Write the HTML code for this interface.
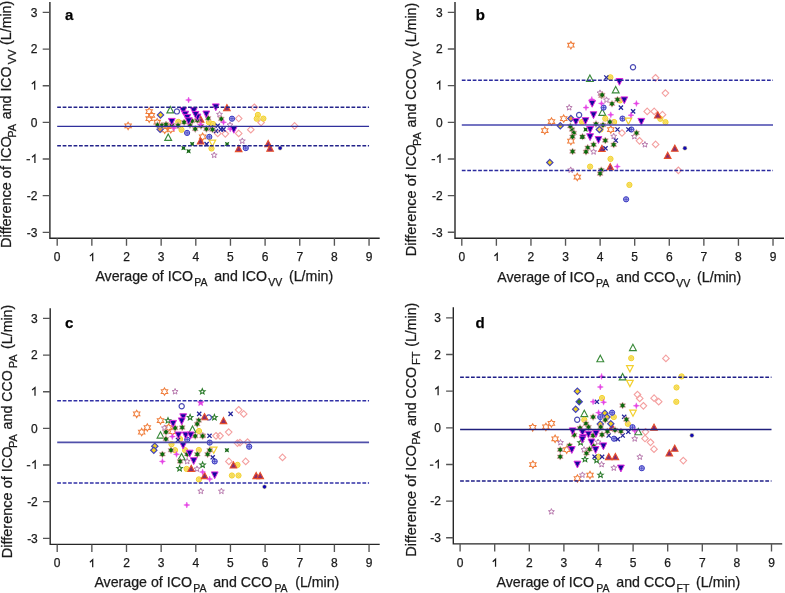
<!DOCTYPE html><html><head><meta charset="utf-8"><style>
html,body{margin:0;padding:0;background:#fff;width:785px;height:593px;overflow:hidden}
svg{display:block;font-family:"Liberation Sans",sans-serif;will-change:transform}
text{stroke:#1a1a1a;stroke-width:0.25px}
</style></head><body>
<svg width="785" height="593" viewBox="0 0 785 593">
<rect width="785" height="593" fill="#fff"/>
<path d="M49.9,2.0V238.3H379.7" fill="none" stroke="#262626" stroke-width="1.4"/>
<path d="M42.699999999999996,232.30H49.9M42.699999999999996,195.65H49.9M42.699999999999996,159.00H49.9M42.699999999999996,122.35H49.9M42.699999999999996,85.70H49.9M42.699999999999996,49.05H49.9M42.699999999999996,12.40H49.9M57.20,238.3V245.8M91.85,238.3V245.8M126.50,238.3V245.8M161.15,238.3V245.8M195.80,238.3V245.8M230.45,238.3V245.8M265.10,238.3V245.8M299.75,238.3V245.8M334.40,238.3V245.8M369.05,238.3V245.8" fill="none" stroke="#555" stroke-width="1.35"/>
<text x="37.50" y="236.60" font-size="12" text-anchor="end" fill="#1a1a1a">-3</text>
<text x="37.50" y="199.95" font-size="12" text-anchor="end" fill="#1a1a1a">-2</text>
<path d="M34.90,163.10V154.80L32.00,157.20" fill="none" stroke="#1a1a1a" stroke-width="1.25"/>
<path d="M26.50,159.70H30.00" fill="none" stroke="#1a1a1a" stroke-width="1.2"/>
<text x="37.50" y="126.65" font-size="12" text-anchor="end" fill="#1a1a1a">0</text>
<path d="M34.70,89.80V81.50L31.80,83.90" fill="none" stroke="#1a1a1a" stroke-width="1.25" stroke-linejoin="miter"/>
<text x="37.50" y="53.35" font-size="12" text-anchor="end" fill="#1a1a1a">2</text>
<text x="37.50" y="16.70" font-size="12" text-anchor="end" fill="#1a1a1a">3</text>
<text x="57.20" y="261.10" font-size="12" text-anchor="middle" fill="#1a1a1a">0</text>
<path d="M92.70,261.20V253.60L89.90,256.10" fill="none" stroke="#1a1a1a" stroke-width="1.25"/>
<text x="126.50" y="261.10" font-size="12" text-anchor="middle" fill="#1a1a1a">2</text>
<text x="161.15" y="261.10" font-size="12" text-anchor="middle" fill="#1a1a1a">3</text>
<text x="195.80" y="261.10" font-size="12" text-anchor="middle" fill="#1a1a1a">4</text>
<text x="230.45" y="261.10" font-size="12" text-anchor="middle" fill="#1a1a1a">5</text>
<text x="265.10" y="261.10" font-size="12" text-anchor="middle" fill="#1a1a1a">6</text>
<text x="299.75" y="261.10" font-size="12" text-anchor="middle" fill="#1a1a1a">7</text>
<text x="334.40" y="261.10" font-size="12" text-anchor="middle" fill="#1a1a1a">8</text>
<text x="369.05" y="261.10" font-size="12" text-anchor="middle" fill="#1a1a1a">9</text>
<text x="65" y="20.0" font-size="15" font-weight="bold" fill="#000">a</text>
<g font-size="14.2" fill="#1a1a1a"><text x="95.40" y="281.2">Average of ICO</text><text x="194.20" y="285.9" font-size="10.5">PA</text><text x="214.20" y="281.2">and ICO</text><text x="268.20" y="285.9" font-size="10.5">VV</text><text x="289.00" y="281.2">(L/min)</text></g>
<g font-size="14.2" fill="#1a1a1a" transform="translate(11.2,248.0) rotate(-90)"><text x="0" y="0" font-size="14.5">Difference of ICO</text><text x="110.20" y="4.7" font-size="11">PA</text><text x="128.80" y="0">and ICO</text><text x="183.80" y="4.7" font-size="11">VV</text><text x="203.10" y="0">(L/min)</text></g>
<path d="M455.0,2.0V238.2H784.0" fill="none" stroke="#262626" stroke-width="1.4"/>
<path d="M447.8,232.25H455.0M447.8,195.60H455.0M447.8,158.95H455.0M447.8,122.30H455.0M447.8,85.65H455.0M447.8,49.00H455.0M447.8,12.35H455.0M461.80,238.2V245.7M496.38,238.2V245.7M530.96,238.2V245.7M565.54,238.2V245.7M600.12,238.2V245.7M634.70,238.2V245.7M669.28,238.2V245.7M703.86,238.2V245.7M738.44,238.2V245.7M773.02,238.2V245.7" fill="none" stroke="#555" stroke-width="1.35"/>
<text x="442.60" y="236.55" font-size="12" text-anchor="end" fill="#1a1a1a">-3</text>
<text x="442.60" y="199.90" font-size="12" text-anchor="end" fill="#1a1a1a">-2</text>
<path d="M440.00,163.05V154.75L437.10,157.15" fill="none" stroke="#1a1a1a" stroke-width="1.25"/>
<path d="M431.60,159.65H435.10" fill="none" stroke="#1a1a1a" stroke-width="1.2"/>
<text x="442.60" y="126.60" font-size="12" text-anchor="end" fill="#1a1a1a">0</text>
<path d="M439.80,89.75V81.45L436.90,83.85" fill="none" stroke="#1a1a1a" stroke-width="1.25" stroke-linejoin="miter"/>
<text x="442.60" y="53.30" font-size="12" text-anchor="end" fill="#1a1a1a">2</text>
<text x="442.60" y="16.65" font-size="12" text-anchor="end" fill="#1a1a1a">3</text>
<text x="461.80" y="261.00" font-size="12" text-anchor="middle" fill="#1a1a1a">0</text>
<path d="M497.23,261.10V253.50L494.43,256.00" fill="none" stroke="#1a1a1a" stroke-width="1.25"/>
<text x="530.96" y="261.00" font-size="12" text-anchor="middle" fill="#1a1a1a">2</text>
<text x="565.54" y="261.00" font-size="12" text-anchor="middle" fill="#1a1a1a">3</text>
<text x="600.12" y="261.00" font-size="12" text-anchor="middle" fill="#1a1a1a">4</text>
<text x="634.70" y="261.00" font-size="12" text-anchor="middle" fill="#1a1a1a">5</text>
<text x="669.28" y="261.00" font-size="12" text-anchor="middle" fill="#1a1a1a">6</text>
<text x="703.86" y="261.00" font-size="12" text-anchor="middle" fill="#1a1a1a">7</text>
<text x="738.44" y="261.00" font-size="12" text-anchor="middle" fill="#1a1a1a">8</text>
<text x="773.02" y="261.00" font-size="12" text-anchor="middle" fill="#1a1a1a">9</text>
<text x="475.7" y="20.0" font-size="15" font-weight="bold" fill="#000">b</text>
<g font-size="14.2" fill="#1a1a1a"><text x="497.30" y="281.8">Average of ICO</text><text x="596.10" y="286.5" font-size="10.5">PA</text><text x="616.10" y="281.8">and CCO</text><text x="676.30" y="286.5" font-size="10.5">VV</text><text x="697.10" y="281.8">(L/min)</text></g>
<g font-size="14.2" fill="#1a1a1a" transform="translate(416.3,256.2) rotate(-90)"><text x="0" y="0" font-size="14.5">Difference of ICO</text><text x="110.20" y="4.7" font-size="11">PA</text><text x="128.80" y="0">and CCO</text><text x="190.00" y="4.7" font-size="11">VV</text><text x="209.30" y="0">(L/min)</text></g>
<path d="M50.2,308.3V544.4H379.7" fill="none" stroke="#262626" stroke-width="1.4"/>
<path d="M43.0,538.30H50.2M43.0,501.65H50.2M43.0,465.00H50.2M43.0,428.35H50.2M43.0,391.70H50.2M43.0,355.05H50.2M43.0,318.40H50.2M57.20,544.4V551.9M91.85,544.4V551.9M126.50,544.4V551.9M161.15,544.4V551.9M195.80,544.4V551.9M230.45,544.4V551.9M265.10,544.4V551.9M299.75,544.4V551.9M334.40,544.4V551.9M369.05,544.4V551.9" fill="none" stroke="#555" stroke-width="1.35"/>
<text x="37.80" y="542.60" font-size="12" text-anchor="end" fill="#1a1a1a">-3</text>
<text x="37.80" y="505.95" font-size="12" text-anchor="end" fill="#1a1a1a">-2</text>
<path d="M35.20,469.10V460.80L32.30,463.20" fill="none" stroke="#1a1a1a" stroke-width="1.25"/>
<path d="M26.80,465.70H30.30" fill="none" stroke="#1a1a1a" stroke-width="1.2"/>
<text x="37.80" y="432.65" font-size="12" text-anchor="end" fill="#1a1a1a">0</text>
<path d="M35.00,395.80V387.50L32.10,389.90" fill="none" stroke="#1a1a1a" stroke-width="1.25" stroke-linejoin="miter"/>
<text x="37.80" y="359.35" font-size="12" text-anchor="end" fill="#1a1a1a">2</text>
<text x="37.80" y="322.70" font-size="12" text-anchor="end" fill="#1a1a1a">3</text>
<text x="57.20" y="567.20" font-size="12" text-anchor="middle" fill="#1a1a1a">0</text>
<path d="M92.70,567.30V559.70L89.90,562.20" fill="none" stroke="#1a1a1a" stroke-width="1.25"/>
<text x="126.50" y="567.20" font-size="12" text-anchor="middle" fill="#1a1a1a">2</text>
<text x="161.15" y="567.20" font-size="12" text-anchor="middle" fill="#1a1a1a">3</text>
<text x="195.80" y="567.20" font-size="12" text-anchor="middle" fill="#1a1a1a">4</text>
<text x="230.45" y="567.20" font-size="12" text-anchor="middle" fill="#1a1a1a">5</text>
<text x="265.10" y="567.20" font-size="12" text-anchor="middle" fill="#1a1a1a">6</text>
<text x="299.75" y="567.20" font-size="12" text-anchor="middle" fill="#1a1a1a">7</text>
<text x="334.40" y="567.20" font-size="12" text-anchor="middle" fill="#1a1a1a">8</text>
<text x="369.05" y="567.20" font-size="12" text-anchor="middle" fill="#1a1a1a">9</text>
<text x="65" y="327.5" font-size="15" font-weight="bold" fill="#000">c</text>
<g font-size="14.2" fill="#1a1a1a"><text x="94.40" y="587.2">Average of ICO</text><text x="193.20" y="591.9000000000001" font-size="10.5">PA</text><text x="213.20" y="587.2">and CCO</text><text x="274.40" y="591.9000000000001" font-size="10.5">PA</text><text x="295.20" y="587.2">(L/min)</text></g>
<g font-size="14.2" fill="#1a1a1a" transform="translate(11.9,558.2) rotate(-90)"><text x="0" y="0" font-size="14.5">Difference of ICO</text><text x="110.20" y="4.7" font-size="11">PA</text><text x="128.80" y="0">and CCO</text><text x="190.00" y="4.7" font-size="11">PA</text><text x="209.30" y="0">(L/min)</text></g>
<path d="M453.3,307.3V543.9H782.2" fill="none" stroke="#262626" stroke-width="1.4"/>
<path d="M446.1,537.75H453.3M446.1,501.10H453.3M446.1,464.45H453.3M446.1,427.80H453.3M446.1,391.15H453.3M446.1,354.50H453.3M446.1,317.85H453.3M460.10,543.9V551.4M494.70,543.9V551.4M529.30,543.9V551.4M563.90,543.9V551.4M598.50,543.9V551.4M633.10,543.9V551.4M667.70,543.9V551.4M702.30,543.9V551.4M736.90,543.9V551.4M771.50,543.9V551.4" fill="none" stroke="#555" stroke-width="1.35"/>
<text x="440.90" y="542.05" font-size="12" text-anchor="end" fill="#1a1a1a">-3</text>
<text x="440.90" y="505.40" font-size="12" text-anchor="end" fill="#1a1a1a">-2</text>
<path d="M438.30,468.55V460.25L435.40,462.65" fill="none" stroke="#1a1a1a" stroke-width="1.25"/>
<path d="M429.90,465.15H433.40" fill="none" stroke="#1a1a1a" stroke-width="1.2"/>
<text x="440.90" y="432.10" font-size="12" text-anchor="end" fill="#1a1a1a">0</text>
<path d="M438.10,395.25V386.95L435.20,389.35" fill="none" stroke="#1a1a1a" stroke-width="1.25" stroke-linejoin="miter"/>
<text x="440.90" y="358.80" font-size="12" text-anchor="end" fill="#1a1a1a">2</text>
<text x="440.90" y="322.15" font-size="12" text-anchor="end" fill="#1a1a1a">3</text>
<text x="460.10" y="566.70" font-size="12" text-anchor="middle" fill="#1a1a1a">0</text>
<path d="M495.55,566.80V559.20L492.75,561.70" fill="none" stroke="#1a1a1a" stroke-width="1.25"/>
<text x="529.30" y="566.70" font-size="12" text-anchor="middle" fill="#1a1a1a">2</text>
<text x="563.90" y="566.70" font-size="12" text-anchor="middle" fill="#1a1a1a">3</text>
<text x="598.50" y="566.70" font-size="12" text-anchor="middle" fill="#1a1a1a">4</text>
<text x="633.10" y="566.70" font-size="12" text-anchor="middle" fill="#1a1a1a">5</text>
<text x="667.70" y="566.70" font-size="12" text-anchor="middle" fill="#1a1a1a">6</text>
<text x="702.30" y="566.70" font-size="12" text-anchor="middle" fill="#1a1a1a">7</text>
<text x="736.90" y="566.70" font-size="12" text-anchor="middle" fill="#1a1a1a">8</text>
<text x="771.50" y="566.70" font-size="12" text-anchor="middle" fill="#1a1a1a">9</text>
<text x="475.6" y="327.5" font-size="15" font-weight="bold" fill="#000">d</text>
<g font-size="14.2" fill="#1a1a1a"><text x="496.50" y="587.1">Average of ICO</text><text x="596.30" y="591.8000000000001" font-size="10.5">PA</text><text x="616.30" y="587.1">and CCO</text><text x="676.50" y="591.8000000000001" font-size="10.5">FT</text><text x="696.10" y="587.1">(L/min)</text></g>
<g font-size="14.2" fill="#1a1a1a" transform="translate(415.7,556.7) rotate(-90)"><text x="0" y="0" font-size="14.5">Difference of ICO</text><text x="112.00" y="4.7" font-size="11">PA</text><text x="130.60" y="0">and CCO</text><text x="191.80" y="4.7" font-size="11">FT</text><text x="209.90" y="0">(L/min)</text></g>
<defs>
<g id="hex"><path d="M0.00,-3.70L1.07,-1.85L3.20,-1.85L2.14,0.00L3.20,1.85L1.07,1.85L0.00,3.70L-1.07,1.85L-3.20,1.85L-2.14,0.00L-3.20,-1.85L-1.07,-1.85Z" fill="none" stroke="#f07e3c" stroke-width="1.05"/></g>
<g id="starG"><path d="M0.00,-3.40L1.00,-1.73L2.94,-1.70L2.00,0.00L2.94,1.70L1.00,1.73L0.00,3.40L-1.00,1.73L-2.94,1.70L-2.00,0.00L-2.94,-1.70L-1.00,-1.73Z" fill="#0b6a0b" stroke="#f0a8b8" stroke-width="0.7"/></g>
<g id="diaY"><path d="M0,-3.15L3.15,0L0,3.15L-3.15,0Z" fill="#f2d21e" stroke="#4444b8" stroke-width="1.2"/></g>
<g id="diaG"><path d="M0,-3.15L3.15,0L0,3.15L-3.15,0Z" fill="#3a7a1a" stroke="#4444b8" stroke-width="1.2"/></g>
<g id="diaO"><path d="M0,-3.15L3.15,0L0,3.15L-3.15,0Z" fill="#e89a40" stroke="#4444b8" stroke-width="1.2"/></g>
<g id="diaN"><path d="M0,-3.2L3.2,0L0,3.2L-3.2,0Z" fill="none" stroke="#3c3cb4" stroke-width="1.2"/></g>
<g id="diaP"><path d="M0,-3.3L3.3,0L0,3.3L-3.3,0Z" fill="none" stroke="#f4a0a0" stroke-width="1.1"/></g>
<g id="triG"><path d="M0,-3.4L3.4,3.0L-3.4,3.0Z" fill="none" stroke="#3a8a3a" stroke-width="1.15"/></g>
<g id="triR"><path d="M0,-3.6L3.3,2.6L-3.3,2.6Z" fill="#8a2c6a" stroke="#e8502a" stroke-width="1.1"/></g>
<g id="itri"><path d="M-3.4,-2.6L3.4,-2.6L0,4.2Z" fill="#14089c" stroke="#dc2adc" stroke-width="1.0"/></g>
<g id="itriY"><path d="M-3.3,-2.6L3.3,-2.6L0,3.6Z" fill="none" stroke="#f2d030" stroke-width="1.2"/></g>
<g id="cirB"><circle r="2.6" fill="none" stroke="#4a4ab4" stroke-width="1.2"/></g>
<g id="cirY"><circle r="2.6" fill="#f8e47a" stroke="#f2d02a" stroke-width="1.0"/><circle r="1.0" fill="none" stroke="#f2d02a" stroke-width="0.6"/></g>
<g id="hatch"><circle r="2.6" fill="#b4b4ee" stroke="#3838c0" stroke-width="1.0"/><path d="M0,-2.4V2.4M-2.4,0H2.4" stroke="#3838c0" stroke-width="0.7"/></g>
<g id="plus"><path d="M0,-3L0.75,-0.75L3,0L0.75,0.75L0,3L-0.75,0.75L-3,0L-0.75,-0.75Z" fill="#e444e4" stroke="#e444e4" stroke-width="0.45"/></g>
<g id="xN"><path d="M-2.1,-2.1L2.1,2.1M-2.1,2.1L2.1,-2.1" stroke="#24249a" stroke-width="1.3"/></g>
<g id="starM"><path d="M0.00,-3.10L0.79,-1.09L2.95,-0.96L1.28,0.42L1.82,2.51L0.00,1.35L-1.82,2.51L-1.28,0.42L-2.95,-0.96L-0.79,-1.09Z" fill="none" stroke="#b87aae" stroke-width="1.0"/></g>
<g id="starGo"><path d="M0.00,-2.90L0.76,-1.05L2.76,-0.90L1.24,0.40L1.70,2.35L0.00,1.30L-1.70,2.35L-1.24,0.40L-2.76,-0.90L-0.76,-1.05Z" fill="none" stroke="#2a7a2a" stroke-width="1.1"/></g>
<g id="starX"><path d="M0,-3.2L1,-1L3.2,0L1,1L0,3.2L-1,1L-3.2,0L-1,-1Z" transform="rotate(45)" fill="#1a6a1a"/></g>
<g id="starMg"><path d="M0.00,-3.40L0.88,-1.21L3.23,-1.05L1.43,0.46L2.00,2.75L0.00,1.50L-2.00,2.75L-1.43,0.46L-3.23,-1.05L-0.88,-1.21Z" fill="#e040e0" stroke="#e040e0" stroke-width="0.6"/></g>
<g id="dotN"><circle r="2.1" fill="#1008b0" stroke="#f4ea9a" stroke-width="0.5"/></g>
</defs>
<use href="#hex" x="128.1" y="125.9"/>
<use href="#hex" x="149.2" y="111.6"/>
<use href="#hex" x="151.4" y="115.3"/>
<use href="#hex" x="149.2" y="118.7"/>
<use href="#hex" x="157.2" y="122.2"/>
<use href="#hex" x="164.7" y="129.8"/>
<use href="#hex" x="170.8" y="129.3"/>
<use href="#hex" x="202.6" y="136.8"/>
<use href="#hex" x="167.5" y="126.5"/>
<use href="#diaP" x="238.7" y="118.5"/>
<use href="#diaP" x="254.3" y="107.3"/>
<use href="#diaP" x="261.1" y="122.5"/>
<use href="#diaP" x="217.7" y="133.4"/>
<use href="#diaP" x="225.3" y="133.8"/>
<use href="#diaP" x="238.7" y="133.4"/>
<use href="#diaP" x="250.8" y="129.7"/>
<use href="#diaP" x="294.6" y="125.9"/>
<use href="#starM" x="219.5" y="114.4"/>
<use href="#starM" x="242.3" y="141"/>
<use href="#starM" x="214.2" y="155.2"/>
<use href="#starM" x="230" y="125"/>
<use href="#triG" x="170.3" y="109.9"/>
<use href="#triG" x="168.2" y="137.4"/>
<use href="#cirB" x="176.9" y="111.4"/>
<use href="#cirY" x="178.3" y="121.9"/>
<use href="#cirY" x="181.5" y="129.8"/>
<use href="#cirY" x="208.9" y="122.2"/>
<use href="#cirY" x="257.9" y="114.9"/>
<use href="#cirY" x="256.7" y="118.7"/>
<use href="#cirY" x="263.4" y="118.6"/>
<use href="#cirY" x="211.5" y="148.5"/>
<use href="#cirY" x="213" y="124"/>
<use href="#hatch" x="187.1" y="132.9"/>
<use href="#hatch" x="209.3" y="136.9"/>
<use href="#hatch" x="232" y="118.7"/>
<use href="#hatch" x="245.8" y="148.1"/>
<use href="#triR" x="226.9" y="108.2"/>
<use href="#triR" x="200.6" y="119.6"/>
<use href="#triR" x="200.6" y="141.4"/>
<use href="#triR" x="238.7" y="149"/>
<use href="#triR" x="268.2" y="144"/>
<use href="#triR" x="270.1" y="148.7"/>
<use href="#dotN" x="280.1" y="148.1"/>
<use href="#xN" x="217.7" y="125.7"/>
<use href="#xN" x="220.9" y="129.4"/>
<use href="#xN" x="223.5" y="129.4"/>
<use href="#xN" x="206.6" y="144.1"/>
<use href="#xN" x="211" y="127.5"/>
<use href="#xN" x="216" y="131"/>
<use href="#itriY" x="212.4" y="142.7"/>
<use href="#diaY" x="160.5" y="114.9"/>
<use href="#diaO" x="160.1" y="129.3"/>
<use href="#starG" x="157.5" y="125"/>
<use href="#starG" x="162" y="125.5"/>
<use href="#starG" x="166" y="124.5"/>
<use href="#starG" x="172" y="125"/>
<use href="#starG" x="178" y="125.5"/>
<use href="#starG" x="184.1" y="122.3"/>
<use href="#starG" x="195.2" y="129"/>
<use href="#starG" x="206.4" y="129"/>
<use href="#starG" x="208.1" y="118.2"/>
<use href="#starG" x="197.3" y="120.2"/>
<use href="#starG" x="221.3" y="118.9"/>
<use href="#starG" x="190" y="125"/>
<use href="#starG" x="201" y="126"/>
<use href="#starG" x="212.5" y="129.5"/>
<use href="#starG" x="192" y="121"/>
<use href="#starX" x="183.5" y="148.1"/>
<use href="#starX" x="188.6" y="151.2"/>
<use href="#starX" x="192.2" y="144"/>
<use href="#starX" x="227.1" y="144.1"/>
<use href="#plus" x="188.6" y="100"/>
<use href="#plus" x="223.5" y="122.3"/>
<use href="#plus" x="230.2" y="129.1"/>
<use href="#plus" x="200.5" y="124.5"/>
<use href="#plus" x="174" y="128"/>
<use href="#itri" x="183.2" y="110.1"/>
<use href="#itri" x="185.3" y="113.8"/>
<use href="#itri" x="187.3" y="117"/>
<use href="#itri" x="188.7" y="120.4"/>
<use href="#itri" x="193.8" y="110.2"/>
<use href="#itri" x="197.5" y="116.6"/>
<use href="#itri" x="206.3" y="113.6"/>
<use href="#itri" x="215.8" y="106.5"/>
<use href="#itri" x="171.8" y="121"/>
<use href="#itri" x="233.8" y="129.0"/>
<use href="#itri" x="195.6" y="114"/>
<use href="#hex" x="570.9" y="45.2"/>
<use href="#hex" x="544.8" y="130.5"/>
<use href="#hex" x="551.5" y="121.5"/>
<use href="#hex" x="563.7" y="118.6"/>
<use href="#hex" x="570.9" y="141.1"/>
<use href="#hex" x="610.8" y="129.5"/>
<use href="#hex" x="577.3" y="177"/>
<use href="#diaP" x="639.5" y="140.8"/>
<use href="#diaP" x="655.6" y="144.4"/>
<use href="#diaP" x="655.5" y="77.8"/>
<use href="#diaP" x="665.4" y="93.1"/>
<use href="#diaP" x="647.2" y="111.4"/>
<use href="#diaP" x="654.2" y="111.4"/>
<use href="#diaP" x="662.5" y="114.7"/>
<use href="#diaP" x="678.3" y="170.3"/>
<use href="#diaP" x="622" y="133"/>
<use href="#starM" x="569.2" y="107.6"/>
<use href="#starM" x="606.5" y="100"/>
<use href="#starM" x="613.7" y="136.3"/>
<use href="#starM" x="634.4" y="136.5"/>
<use href="#starM" x="593.6" y="151.8"/>
<use href="#starM" x="570.7" y="170"/>
<use href="#starM" x="644.9" y="144.6"/>
<use href="#starM" x="600" y="93"/>
<use href="#triG" x="589.9" y="78.5"/>
<use href="#triG" x="615.7" y="89.8"/>
<use href="#triG" x="602.3" y="112.3"/>
<use href="#cirB" x="579.1" y="115"/>
<use href="#cirB" x="633" y="67.3"/>
<use href="#cirY" x="582.1" y="122"/>
<use href="#cirY" x="614.1" y="122"/>
<use href="#cirY" x="600.6" y="129.5"/>
<use href="#cirY" x="605.3" y="118.6"/>
<use href="#cirY" x="610.4" y="77.3"/>
<use href="#cirY" x="660.3" y="118.8"/>
<use href="#cirY" x="665.5" y="122.2"/>
<use href="#cirY" x="610.5" y="158.9"/>
<use href="#cirY" x="590.1" y="166.6"/>
<use href="#cirY" x="629.4" y="184.9"/>
<use href="#cirY" x="620" y="100.5"/>
<use href="#hatch" x="603.6" y="107.6"/>
<use href="#hatch" x="622.5" y="118.6"/>
<use href="#hatch" x="631.4" y="129.5"/>
<use href="#hatch" x="626.1" y="199.3"/>
<use href="#triR" x="657.8" y="115.4"/>
<use href="#triR" x="601.9" y="148.9"/>
<use href="#triR" x="610.2" y="167.2"/>
<use href="#triR" x="674.8" y="148.7"/>
<use href="#triR" x="667.7" y="155.8"/>
<use href="#dotN" x="684.9" y="148.2"/>
<use href="#xN" x="620.9" y="107.6"/>
<use href="#xN" x="633.1" y="111.4"/>
<use href="#xN" x="617.5" y="129.5"/>
<use href="#xN" x="615.8" y="140.5"/>
<use href="#xN" x="628.4" y="129.5"/>
<use href="#xN" x="606.3" y="77.5"/>
<use href="#xN" x="605.5" y="148.3"/>
<use href="#itriY" x="628.4" y="120.7"/>
<use href="#diaY" x="560.3" y="125.7"/>
<use href="#diaY" x="549.8" y="162.5"/>
<use href="#diaO" x="570.9" y="118.6"/>
<use href="#diaN" x="599.4" y="129.5"/>
<use href="#starG" x="572.1" y="129.5"/>
<use href="#starG" x="573.8" y="132.9"/>
<use href="#starG" x="572.5" y="136.7"/>
<use href="#starG" x="570.4" y="126.2"/>
<use href="#starG" x="572.6" y="151.5"/>
<use href="#starG" x="612" y="103.8"/>
<use href="#starG" x="601.5" y="95.8"/>
<use href="#starG" x="617.5" y="99.6"/>
<use href="#starG" x="582.5" y="136.7"/>
<use href="#starG" x="636.5" y="133"/>
<use href="#starG" x="605.3" y="140.5"/>
<use href="#starG" x="609.9" y="122"/>
<use href="#starG" x="587.7" y="147.7"/>
<use href="#starG" x="593.6" y="144.7"/>
<use href="#starG" x="586" y="151.8"/>
<use href="#starG" x="613.7" y="144.7"/>
<use href="#starG" x="601.3" y="170.1"/>
<use href="#starG" x="600.1" y="173.6"/>
<use href="#starG" x="602.2" y="94.9"/>
<use href="#starG" x="603" y="125"/>
<use href="#starG" x="596" y="124"/>
<use href="#starX" x="582.2" y="137.1"/>
<use href="#starX" x="585.6" y="129.5"/>
<use href="#plus" x="586" y="107.6"/>
<use href="#plus" x="601.5" y="103.4"/>
<use href="#plus" x="610.8" y="114.8"/>
<use href="#plus" x="636.4" y="103.5"/>
<use href="#plus" x="631" y="115.2"/>
<use href="#plus" x="617.3" y="166.6"/>
<use href="#plus" x="591.8" y="99.5"/>
<use href="#itri" x="575.9" y="121.1"/>
<use href="#itri" x="592.2" y="103"/>
<use href="#itri" x="593.5" y="114.4"/>
<use href="#itri" x="585.5" y="120.3"/>
<use href="#itri" x="590.1" y="129.1"/>
<use href="#itri" x="590.1" y="136.3"/>
<use href="#itri" x="598.5" y="139.2"/>
<use href="#itri" x="624.3" y="99.5"/>
<use href="#itri" x="641.3" y="121"/>
<use href="#itri" x="619.4" y="81.1"/>
<use href="#hex" x="164.5" y="391.6"/>
<use href="#hex" x="136.7" y="413.9"/>
<use href="#hex" x="160.5" y="420.5"/>
<use href="#hex" x="147.3" y="427.5"/>
<use href="#hex" x="141.7" y="432.1"/>
<use href="#hex" x="168.6" y="427.5"/>
<use href="#hex" x="172.6" y="431.6"/>
<use href="#diaP" x="238.7" y="409.8"/>
<use href="#diaP" x="243.7" y="413.9"/>
<use href="#diaP" x="228.7" y="432.1"/>
<use href="#diaP" x="216" y="435.8"/>
<use href="#diaP" x="220" y="435.8"/>
<use href="#diaP" x="237.5" y="443.1"/>
<use href="#diaP" x="240" y="442.6"/>
<use href="#diaP" x="247.6" y="442.1"/>
<use href="#diaP" x="228.9" y="461.4"/>
<use href="#diaP" x="245.7" y="461.4"/>
<use href="#diaP" x="282.5" y="457.4"/>
<use href="#starM" x="175.1" y="391.6"/>
<use href="#starM" x="164.5" y="428"/>
<use href="#starM" x="197" y="469"/>
<use href="#starM" x="187.2" y="461.4"/>
<use href="#starM" x="200.8" y="491.2"/>
<use href="#starM" x="221.4" y="491.2"/>
<use href="#starGo" x="168" y="420.5"/>
<use href="#starGo" x="202.3" y="391.6"/>
<use href="#starGo" x="214.4" y="417.4"/>
<use href="#starGo" x="190.1" y="417.4"/>
<use href="#starGo" x="202.6" y="464.9"/>
<use href="#starGo" x="179.6" y="468.4"/>
<use href="#triG" x="160.5" y="435.1"/>
<use href="#triG" x="181.6" y="456.8"/>
<use href="#triG" x="192.5" y="429.5"/>
<use href="#cirB" x="181.7" y="406.3"/>
<use href="#cirB" x="208.8" y="417.4"/>
<use href="#cirY" x="180.1" y="439.1"/>
<use href="#cirY" x="175" y="450.2"/>
<use href="#cirY" x="185.1" y="450.2"/>
<use href="#cirY" x="186.6" y="468.9"/>
<use href="#cirY" x="198.8" y="450"/>
<use href="#cirY" x="198.9" y="479.4"/>
<use href="#cirY" x="199" y="431"/>
<use href="#cirY" x="171.5" y="444.2"/>
<use href="#cirY" x="237.5" y="464.9"/>
<use href="#cirY" x="231.9" y="475.5"/>
<use href="#cirY" x="238.5" y="475.5"/>
<use href="#hatch" x="187.2" y="439.6"/>
<use href="#hatch" x="209.7" y="442.6"/>
<use href="#hatch" x="249.2" y="446.7"/>
<use href="#hatch" x="214.7" y="461.4"/>
<use href="#triR" x="204.5" y="417.2"/>
<use href="#triR" x="223.5" y="421"/>
<use href="#triR" x="191.2" y="468.9"/>
<use href="#triR" x="233.4" y="465.4"/>
<use href="#triR" x="204.6" y="476"/>
<use href="#triR" x="256.2" y="476"/>
<use href="#triR" x="260.2" y="476"/>
<use href="#dotN" x="264.5" y="486.8"/>
<use href="#xN" x="199.2" y="413.9"/>
<use href="#xN" x="230.6" y="413.9"/>
<use href="#xN" x="209.5" y="435.8"/>
<use href="#xN" x="212.7" y="457.3"/>
<use href="#xN" x="178" y="440"/>
<use href="#itriY" x="213.7" y="449.7"/>
<use href="#diaY" x="154.8" y="446.2"/>
<use href="#diaY" x="153.8" y="450.2"/>
<use href="#starG" x="175.1" y="428"/>
<use href="#starG" x="166" y="432.1"/>
<use href="#starG" x="182.2" y="427.5"/>
<use href="#starG" x="165.9" y="439.1"/>
<use href="#starG" x="162.4" y="454.3"/>
<use href="#starG" x="171" y="450.2"/>
<use href="#starG" x="187.2" y="454.3"/>
<use href="#starG" x="180.1" y="461.4"/>
<use href="#starG" x="197.3" y="454.3"/>
<use href="#starG" x="195.2" y="436.1"/>
<use href="#starG" x="198.7" y="420.5"/>
<use href="#starG" x="197.2" y="424"/>
<use href="#starG" x="202.8" y="435.6"/>
<use href="#starG" x="202.6" y="436.1"/>
<use href="#starG" x="209.7" y="450.2"/>
<use href="#starG" x="207.6" y="454.3"/>
<use href="#starX" x="226.9" y="450.2"/>
<use href="#plus" x="172.3" y="436.6"/>
<use href="#plus" x="162.4" y="461.4"/>
<use href="#plus" x="176.5" y="454.3"/>
<use href="#plus" x="202.6" y="472"/>
<use href="#plus" x="209.7" y="479.1"/>
<use href="#plus" x="186.8" y="505"/>
<use href="#starMg" x="200.7" y="402.8"/>
<use href="#itri" x="173.1" y="423"/>
<use href="#itri" x="183.2" y="416.4"/>
<use href="#itri" x="181.7" y="420.5"/>
<use href="#itri" x="178.4" y="434.6"/>
<use href="#itri" x="185.7" y="434.6"/>
<use href="#itri" x="190.7" y="434.6"/>
<use href="#itri" x="183.1" y="444.7"/>
<use href="#itri" x="193.7" y="460.3"/>
<use href="#itri" x="189.7" y="452.8"/>
<use href="#itri" x="214.7" y="474.5"/>
<use href="#hex" x="532.7" y="427.4"/>
<use href="#hex" x="545.9" y="426.9"/>
<use href="#hex" x="551.4" y="423.4"/>
<use href="#hex" x="555.1" y="438.8"/>
<use href="#hex" x="566.7" y="449.7"/>
<use href="#hex" x="590" y="475"/>
<use href="#hex" x="577.4" y="478.5"/>
<use href="#hex" x="532.9" y="464.5"/>
<use href="#diaP" x="637.5" y="394.6"/>
<use href="#diaP" x="639.7" y="398.4"/>
<use href="#diaP" x="643.4" y="405.8"/>
<use href="#diaP" x="654.1" y="398.2"/>
<use href="#diaP" x="658.7" y="401.7"/>
<use href="#diaP" x="645.5" y="431.8"/>
<use href="#diaP" x="645" y="438.5"/>
<use href="#diaP" x="650.5" y="442.3"/>
<use href="#diaP" x="654" y="449.2"/>
<use href="#diaP" x="665.9" y="358.4"/>
<use href="#diaP" x="683.3" y="460.6"/>
<use href="#starM" x="560.5" y="442.6"/>
<use href="#starM" x="584" y="449.7"/>
<use href="#starM" x="601.6" y="464.5"/>
<use href="#starM" x="582.4" y="475"/>
<use href="#starM" x="613.8" y="468"/>
<use href="#starM" x="598.1" y="442.1"/>
<use href="#starM" x="634.7" y="438.8"/>
<use href="#starM" x="639.8" y="457"/>
<use href="#starM" x="551.4" y="511.7"/>
<use href="#starGo" x="580.6" y="442.6"/>
<use href="#starGo" x="585" y="459.3"/>
<use href="#starGo" x="596.6" y="460.3"/>
<use href="#starGo" x="600.5" y="475"/>
<use href="#triG" x="632.9" y="347.6"/>
<use href="#triG" x="600.3" y="358.7"/>
<use href="#triG" x="622.6" y="376.9"/>
<use href="#triG" x="584.3" y="413.6"/>
<use href="#triG" x="638.3" y="431.8"/>
<use href="#cirB" x="577.2" y="419.8"/>
<use href="#cirY" x="631.2" y="358.2"/>
<use href="#cirY" x="602" y="398"/>
<use href="#cirY" x="613.8" y="417"/>
<use href="#cirY" x="627.8" y="423.8"/>
<use href="#cirY" x="584.3" y="419.9"/>
<use href="#cirY" x="681.6" y="376.4"/>
<use href="#cirY" x="676.5" y="387.5"/>
<use href="#cirY" x="676.3" y="401.8"/>
<use href="#cirY" x="598.6" y="456.7"/>
<use href="#hatch" x="600.3" y="417"/>
<use href="#hatch" x="614" y="438.7"/>
<use href="#hatch" x="632.5" y="427.2"/>
<use href="#hatch" x="612.1" y="412.7"/>
<use href="#hatch" x="641.8" y="468.2"/>
<use href="#triR" x="612.1" y="427.5"/>
<use href="#triR" x="654" y="427.7"/>
<use href="#triR" x="674.7" y="448.7"/>
<use href="#triR" x="669.3" y="453.4"/>
<use href="#triR" x="608.7" y="457.2"/>
<use href="#triR" x="615.4" y="457.1"/>
<use href="#dotN" x="691.9" y="435.4"/>
<use href="#xN" x="596.9" y="401.8"/>
<use href="#xN" x="624.2" y="416.8"/>
<use href="#xN" x="608.7" y="435.5"/>
<use href="#xN" x="622.7" y="435.5"/>
<use href="#xN" x="628.3" y="431.8"/>
<use href="#xN" x="617.8" y="439.2"/>
<use href="#xN" x="594.6" y="456.7"/>
<use href="#xN" x="602.1" y="456.8"/>
<use href="#itriY" x="629.9" y="368.3"/>
<use href="#itriY" x="629.9" y="383"/>
<use href="#itriY" x="633" y="412.7"/>
<use href="#diaY" x="577.4" y="391.3"/>
<use href="#diaY" x="575.7" y="409.2"/>
<use href="#diaY" x="604.9" y="413.2"/>
<use href="#diaY" x="607" y="417"/>
<use href="#diaY" x="610.8" y="423.7"/>
<use href="#diaY" x="600.3" y="424.1"/>
<use href="#diaG" x="579.2" y="401.7"/>
<use href="#starG" x="574.2" y="435"/>
<use href="#starG" x="569.6" y="445.6"/>
<use href="#starG" x="622.6" y="405.5"/>
<use href="#starG" x="593.1" y="417"/>
<use href="#starG" x="586" y="423.7"/>
<use href="#starG" x="588.5" y="427.1"/>
<use href="#starG" x="600.7" y="427.1"/>
<use href="#starG" x="605.3" y="419.9"/>
<use href="#starG" x="626.4" y="419.5"/>
<use href="#starG" x="620.9" y="431.3"/>
<use href="#starG" x="607.4" y="431.3"/>
<use href="#starG" x="593.1" y="435.5"/>
<use href="#starG" x="602" y="434.7"/>
<use href="#starG" x="560.2" y="449.7"/>
<use href="#starG" x="560.2" y="456.7"/>
<use href="#starG" x="586.5" y="453.2"/>
<use href="#starG" x="589.5" y="449.2"/>
<use href="#starG" x="593.6" y="446.1"/>
<use href="#starG" x="615" y="430"/>
<use href="#starG" x="580" y="428"/>
<use href="#plus" x="601.6" y="376.4"/>
<use href="#plus" x="600.3" y="387"/>
<use href="#plus" x="593.1" y="401.8"/>
<use href="#plus" x="603.6" y="402.2"/>
<use href="#plus" x="598.6" y="412.7"/>
<use href="#plus" x="636.3" y="405.8"/>
<use href="#plus" x="634.8" y="430.8"/>
<use href="#itri" x="572.7" y="430.5"/>
<use href="#itri" x="582.5" y="431.8"/>
<use href="#itri" x="588.5" y="433.8"/>
<use href="#itri" x="583" y="437.2"/>
<use href="#itri" x="582.4" y="438.8"/>
<use href="#itri" x="591.5" y="441.6"/>
<use href="#itri" x="603.4" y="445.5"/>
<use href="#itri" x="595.6" y="449.2"/>
<use href="#itri" x="577.4" y="463.8"/>
<use href="#itri" x="571.8" y="449.2"/>
<use href="#itri" x="620.9" y="467.7"/>
<use href="#itri" x="596" y="433"/>
<path d="M57.2,107.2H369.05M57.2,145.7H369.05" stroke="#23238a" stroke-width="1.5" stroke-dasharray="3.75,1.7" fill="none"/>
<path d="M57.2,126.4H369.05" stroke="#30309c" stroke-width="1.35" fill="none"/>
<path d="M461.8,80.2H773.02M461.8,170.5H773.02" stroke="#2a2a9e" stroke-width="1.6" stroke-dasharray="3.75,1.7" fill="none"/>
<path d="M461.8,125.0H773.02" stroke="#4646ae" stroke-width="1.7" fill="none"/>
<path d="M57.2,400.8H369.05M57.2,483.0H369.05" stroke="#3030a6" stroke-width="1.6" stroke-dasharray="3.75,1.7" fill="none"/>
<path d="M57.2,442.35H369.05" stroke="#5050aa" stroke-width="1.7" fill="none"/>
<path d="M460.1,377.3H771.50M460.1,481.0H771.50" stroke="#1e1e88" stroke-width="1.5" stroke-dasharray="3.75,1.7" fill="none"/>
<path d="M460.1,429.5H771.50" stroke="#20207c" stroke-width="1.3" fill="none"/>
</svg></body></html>
